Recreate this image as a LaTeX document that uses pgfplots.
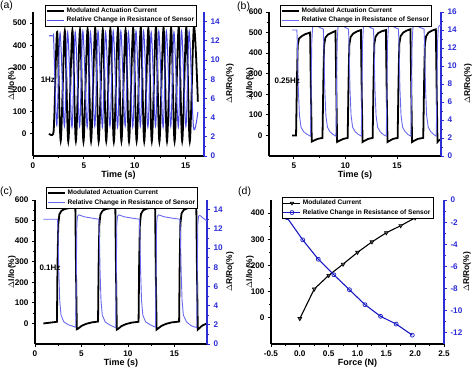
\documentclass[border=0pt]{standalone}
\usepackage{fontspec}
\setmainfont{Liberation Sans}
\usepackage{pgfplots}
\pgfplotsset{compat=1.18}

\definecolor{axblue}{RGB}{45,45,215}
\definecolor{curveblue}{RGB}{75,75,230}
\definecolor{lightblue}{RGB}{105,105,240}
\definecolor{dblue}{RGB}{25,25,195}

\pgfplotsset{
  common/.style={
    scale only axis, width=171bp, height=144bp,
    anchor=south west,
    tick align=outside,
    major tick length=3bp, minor tick length=1.7bp,
    /pgf/number format/assume math mode=true,
    tick label style={font=\fontsize{8.2}{9}\selectfont\bfseries},
    xlabel style={font=\fontsize{9}{10}\selectfont\bfseries, yshift=4.5bp},
  },
  leftax/.style={common,
    axis x line*=bottom, axis y line*=left,
    axis line style={black, line width=1.3pt},
    every tick/.style={black, line width=0.9pt},
    minor x tick num=1, minor y tick num=1,
  },
  rightax/.style={common,
    axis x line=none, axis y line*=right,
    yticklabel pos=right,
    y axis line style={axblue, line width=1.3pt},
    every tick/.style={axblue, line width=0.9pt},
    yticklabel style={text=axblue},
    minor y tick num=1,
    legend cell align=left,
    legend style={font=\fontsize{6.6}{7.2}\selectfont\bfseries, draw=black,
      line width=0.5pt, fill=white, inner sep=0.6pt, row sep=-0.8pt,
      anchor=north west},
    legend image code/.code={\draw[#1] (0pt,0pt) -- (17pt,0pt);},
  },
  % y-axis title placed at a given horizontal offset from the plot area
  ylab/.style={ylabel style={at={(axis description cs:#1,0.5)}, anchor=center,
    font=\fontsize{8.4}{9}\selectfont\bfseries}},
}

\begin{document}
\begin{tikzpicture}
\useasboundingbox (0bp,0bp) rectangle (474bp,371bp);

% ---------------- (a) 1 Hz ----------------
\begin{axis}[leftax, at={(33bp,215bp)},
  xmin=0, xmax=16.8, ymin=-100, ymax=550,
  xtick={0,5,10,15}, ytick={0,100,...,500},
  xlabel={Time (s)}, ylabel={$\Delta$I/Io(\%)}, ylab=-0.123]
\addplot[black, line width=1.8pt, smooth, tension=0.5] coordinates {
(1.57,0) (1.98,0) (2.1,90) (2.38,460) (2.72,-32) (3.126,465) (3.466,-35)
(3.872,468) (4.212,-33) (4.618,470) (4.958,-36) (5.364,472) (5.704,-34)
(6.11,478) (6.45,-35) (6.856,470) (7.196,-33) (7.602,474) (7.942,-36)
(8.348,476) (8.688,-34) (9.094,470) (9.434,-35) (9.84,478) (10.18,-33)
(10.586,482) (10.926,-35) (11.332,476) (11.672,-34) (12.078,484) (12.418,-36)
(12.824,480) (13.164,-34) (13.57,478) (13.91,-35) (14.316,484) (14.656,-33)
(15.062,480) (15.402,-35) (15.808,486) (16.2,145)};
\end{axis}
\begin{axis}[rightax, at={(33bp,215bp)},
  xmin=0, xmax=16.8, ymin=0, ymax=15,
  ytick={0,2,...,14}, ylabel={$\Delta$R/Ro(\%)}, ylab=1.152,
  legend style={at={(0.07,1.049)}}]
\addlegendimage{black, line width=1.8pt}
\addlegendentry{Modulated Actuation Current}
\addplot[curveblue, line width=1pt, smooth, tension=0.5] coordinates {
(1.57,12.5) (1.97,12.5) (2.04,11.8) (2.34,3.2) (2.66,12.8) (3.086,3.1) (3.406,12.9)
(3.832,3.0) (4.152,12.9) (4.578,3.1) (4.898,13.0) (5.324,3.0) (5.644,12.9)
(6.07,3.1) (6.39,13.0) (6.816,3.0) (7.136,12.9) (7.562,3.1) (7.882,13.0)
(8.308,3.0) (8.628,13.0) (9.054,3.1) (9.374,12.9) (9.80,3.0) (10.12,13.0)
(10.546,3.1) (10.866,13.0) (11.292,3.0) (11.612,12.9) (12.038,3.1) (12.358,13.0)
(12.784,3.0) (13.104,13.0) (13.53,3.1) (13.85,12.9) (14.276,3.0) (14.596,13.0)
(15.022,3.1) (15.342,13.0) (15.768,3.0) (16.2,4.6)};
\addlegendentry{Relative Change in Resistance of Sensor}
\node[font=\fontsize{8}{9}\selectfont\bfseries, anchor=west] at (axis description cs:0.025,0.53) {1Hz};
\end{axis}

% ---------------- (b) 0.25 Hz ----------------
\begin{axis}[leftax, at={(269bp,215bp)}, width=172bp,
  xmin=2.6, xmax=19.26, ymin=-100, ymax=600,
  xtick={5,10,15}, ytick={0,100,...,600},
  xlabel={Time (s)}, ylabel={$\Delta$I/Io(\%)}, ylab=-0.11]
\addplot[black, line width=1.8pt] coordinates {
(4.84,0) (5.22,0) (5.30,250) (5.38,440) (5.50,470) (5.75,482) (6.1,492) (6.58,500)
(6.66,220) (6.74,-30) (6.9,-26) (7.3,-17) (7.78,-12)
(7.86,250) (7.94,440) (8.06,475) (8.3,490) (8.7,500) (9.04,508)
(9.12,220) (9.20,-32) (9.36,-27) (9.8,-17) (10.22,-12)
(10.30,250) (10.38,440) (10.50,478) (10.75,495) (11.1,505) (11.50,512)
(11.58,220) (11.66,-32) (11.82,-27) (12.2,-17) (12.64,-12)
(12.72,250) (12.80,445) (12.92,480) (13.17,497) (13.5,506) (13.92,512)
(14.0,220) (14.08,-32) (14.24,-27) (14.6,-17) (15.06,-12)
(15.14,250) (15.22,445) (15.34,482) (15.6,500) (15.95,510) (16.30,516)
(16.38,220) (16.46,-32) (16.62,-27) (17.0,-17) (17.54,-12)
(17.62,250) (17.70,445) (17.82,482) (18.05,500) (18.4,510) (18.76,516)
(18.84,220) (18.92,-32) (19.05,-25) (19.26,-18)};
\end{axis}
\begin{axis}[rightax, at={(269bp,215bp)}, width=172bp,
  xmin=2.6, xmax=19.26, ymin=0, ymax=16,
  ytick={0,2,...,16}, ylabel={$\Delta$R/Ro(\%)}, ylab=1.157,
  legend style={at={(0.064,1.049)}}]
\addlegendimage{black, line width=1.8pt}
\addlegendentry{Modulated Actuation Current}
\addplot[lightblue, line width=0.9pt] coordinates {
(4.84,14.0) (5.30,14.0) (5.36,12) (5.44,7.5) (5.55,4.5) (5.7,3.2) (5.95,2.7) (6.3,2.4)
(6.62,2.2) (6.68,7) (6.74,12.5) (6.82,14.3) (6.95,14.5) (7.3,14.4) (7.86,14.1)
(7.92,12) (8.0,7.5) (8.11,4.5) (8.26,3.2) (8.5,2.7) (8.8,2.4)
(9.08,2.2) (9.14,7) (9.2,12.5) (9.28,14.3) (9.41,14.5) (9.8,14.4) (10.3,14.1)
(10.36,12) (10.44,7.5) (10.55,4.5) (10.7,3.2) (10.95,2.7) (11.25,2.4)
(11.54,2.2) (11.6,7) (11.66,12.5) (11.74,14.3) (11.87,14.5) (12.2,14.4) (12.72,14.1)
(12.78,12) (12.86,7.5) (12.97,4.5) (13.12,3.2) (13.37,2.7) (13.65,2.4)
(13.96,2.2) (14.02,7) (14.08,12.5) (14.16,14.3) (14.29,14.5) (14.6,14.4) (15.14,14.1)
(15.2,12) (15.28,7.5) (15.39,4.5) (15.54,3.2) (15.79,2.7) (16.05,2.4)
(16.34,2.2) (16.4,7) (16.46,12.5) (16.54,14.3) (16.67,14.5) (17.0,14.4) (17.62,14.1)
(17.68,12) (17.76,7.5) (17.87,4.5) (18.02,3.2) (18.27,2.7) (18.55,2.4)
(18.8,2.2) (18.86,7) (18.92,12.5) (19.0,14.3) (19.13,14.5) (19.26,14.45)};
\addlegendentry{Relative Change in Resistance of Sensor}
\node[font=\fontsize{8}{9}\selectfont\bfseries, anchor=west] at (axis description cs:0.012,0.52) {0.25Hz};
\end{axis}

% ---------------- (c) 0.1 Hz ----------------
\begin{axis}[leftax, at={(35bp,27bp)}, width=172bp,
  xmin=0, xmax=18.5, ymin=-100, ymax=600,
  xtick={0,5,10,15}, ytick={0,100,...,600},
  xlabel={Time (s)}, ylabel={$\Delta$I/Io(\%)}, ylab=-0.134]
\addplot[black, line width=1.8pt] coordinates {
(0.9,0) (1.5,3) (2.36,8) (2.42,280) (2.5,480) (2.62,530) (2.85,548) (3.2,556) (3.8,562) (4.34,565)
(4.42,220) (4.5,-28) (4.65,-25) (5.0,-12) (5.5,-2) (6.1,5) (6.78,9)
(6.84,280) (6.92,480) (7.04,530) (7.27,548) (7.6,556) (8.1,560) (8.64,563)
(8.72,220) (8.8,-30) (8.95,-26) (9.3,-13) (9.8,-3) (10.4,4) (11.14,8)
(11.2,280) (11.28,480) (11.4,532) (11.63,550) (12.0,558) (12.5,562) (12.92,565)
(13.0,220) (13.08,-30) (13.23,-25) (13.6,-12) (14.1,-2) (14.7,5) (15.5,9)
(15.56,280) (15.64,485) (15.76,535) (16.0,552) (16.4,560) (16.9,565) (17.35,568)
(17.43,220) (17.51,-30) (17.66,-24) (18.0,-10) (18.5,0)};
\end{axis}
\begin{axis}[rightax, at={(35bp,27bp)}, width=172bp,
  xmin=0, xmax=18.5, ymin=0, ymax=15,
  ytick={0,2,...,14}, ylabel={$\Delta$R/Ro(\%)}, ylab=1.134,
  legend style={at={(0.064,1.09)}}]
\addlegendimage{black, line width=1.8pt}
\addlegendentry{Modulated Actuation Current}
\addplot[lightblue, line width=0.9pt] coordinates {
(0.9,13.0) (2.42,13.0) (2.48,11.5) (2.56,7.5) (2.66,4.5) (2.8,3.0) (3.1,2.3) (3.6,2.0)
(4.38,1.75) (4.44,7) (4.5,12.5) (4.58,13.3) (4.72,13.45) (5.3,13.25) (6.2,13.1) (6.86,13.0)
(6.92,11.5) (7.0,7.5) (7.1,4.5) (7.24,3.0) (7.55,2.3) (8.0,2.0)
(8.68,1.7) (8.74,7) (8.8,12.5) (8.88,13.3) (9.02,13.45) (9.6,13.25) (10.5,13.1) (11.22,13.0)
(11.28,11.5) (11.36,7.5) (11.46,4.5) (11.6,3.0) (11.9,2.3) (12.4,2.0)
(12.96,1.75) (13.02,7) (13.08,12.5) (13.16,13.3) (13.3,13.45) (13.9,13.25) (14.8,13.1) (15.58,13.0)
(15.64,11.5) (15.72,7.5) (15.82,4.5) (15.96,3.0) (16.3,2.3) (16.8,1.9)
(17.39,1.7) (17.45,7) (17.51,12.5) (17.59,13.3) (17.73,13.4) (18.1,13.1) (18.5,12.8)};
\addlegendentry{Relative Change in Resistance of Sensor}
\node[font=\fontsize{8}{9}\selectfont\bfseries, anchor=west] at (axis description cs:0.006,0.53) {0.1Hz};
\end{axis}

% ---------------- (d) force sweep ----------------
\begin{axis}[leftax, at={(271bp,27bp)}, width=173bp,
  xmin=-0.5, xmax=2.5, ymin=-100, ymax=450,
  xtick={-0.5,0,0.5,...,2.5}, ytick={0,100,...,400},
  xticklabel style={/pgf/number format/.cd, fixed, fixed zerofill, precision=1},
  xlabel={Force (N)}, ylabel={$\Delta$I/Io(\%)}, ylab=-0.121]
\addplot[black, line width=1.1pt, mark=triangle*, mark size=2.2pt,
  mark options={rotate=180, fill=black!65, line width=0.6pt}] coordinates {
(0,-3) (0.25,110) (0.5,162) (0.75,205) (1.0,250) (1.25,290) (1.5,325) (1.75,352) (2.0,382)};
\end{axis}
\begin{axis}[rightax, at={(271bp,27bp)}, width=173bp,
  xmin=-0.5, xmax=2.5, ymin=-13, ymax=0,
  ytick={-12,-10,...,0}, ylabel={$\Delta$R/Ro(\%)}, ylab=1.133,
  legend style={at={(0.064,1.02)}},
  legend image code/.code={\draw[mark repeat=2, mark phase=2, #1]
    plot coordinates {(0pt,0pt) (8.5pt,0pt) (17pt,0pt)};}]
\addlegendimage{black, line width=1.1pt, mark=triangle*, mark size=2pt,
  mark options={rotate=180, fill=black!65, line width=0.6pt}}
\addlegendentry{Modulated Current}
\addplot[dblue, line width=1.1pt, mark=o, mark size=2pt,
  mark options={fill=white, line width=0.7pt}] coordinates {
(-0.22,-1.6) (0.05,-3.6) (0.32,-5.35) (0.59,-6.75) (0.86,-8.1) (1.13,-9.45) (1.40,-10.5) (1.67,-11.2) (1.95,-12.2)};
\addlegendentry{Relative Change in Resistance of Sensor}
\end{axis}

% panel letters
\node[anchor=north west, inner sep=0pt, font=\fontsize{10.5}{12}\selectfont] at (0bp,370bp) {(a)};
\node[anchor=north west, inner sep=0pt, font=\fontsize{10.5}{12}\selectfont] at (237bp,369bp) {(b)};
\node[anchor=north west, inner sep=0pt, font=\fontsize{10.5}{12}\selectfont] at (0bp,184bp) {(c)};
\node[anchor=north west, inner sep=0pt, font=\fontsize{10.5}{12}\selectfont] at (238bp,184bp) {(d)};
\end{tikzpicture}
\end{document}
